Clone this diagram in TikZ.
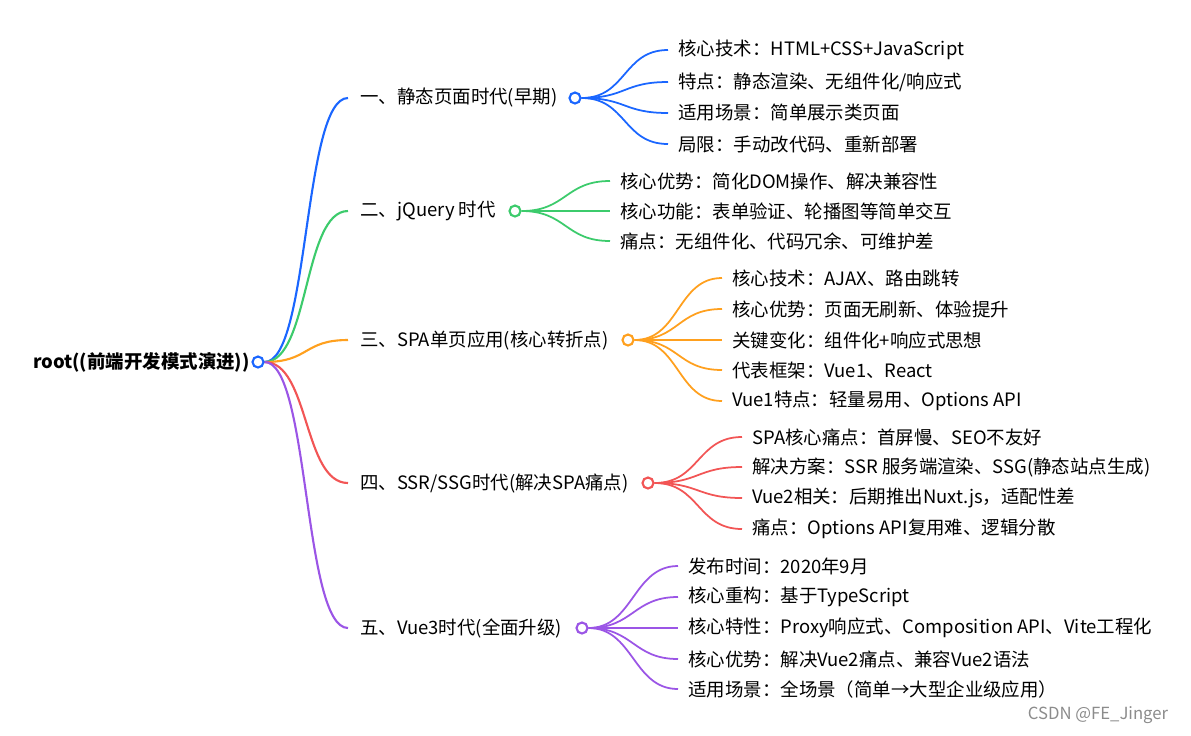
\documentclass[tikz,border=0pt]{standalone}
\usepackage{fontspec}
\setmainfont{Noto Sans CJK SC}
\usepackage{tikz}

\definecolor{cA}{HTML}{1A66FF}
\definecolor{cB}{HTML}{3CCB6C}
\definecolor{cC}{HTML}{FFA01E}
\definecolor{cD}{HTML}{F25555}
\definecolor{cE}{HTML}{9B55E6}

\tikzset{
  dot/.style={circle,inner sep=0pt,minimum size=0.22cm,line width=1.2pt},
  txt/.style={anchor=west,inner ysep=0pt,inner xsep=0.2cm,font=\fontsize{10.5pt}{12pt}\selectfont},
  br/.style={line width=1.2pt},
  lf/.style={line width=1pt}
}

\begin{document}
\begin{tikzpicture}[x=0.02cm,y=-0.02cm]
  \useasboundingbox[fill=white] (0,0) rectangle (1191,735);
  % root
  \node (r) at (250,362) [anchor=east,inner sep=0pt,font=\fontsize{10.5pt}{12pt}\selectfont\bfseries] {root((前端开发模式演进))};
  \node (rc) at (258,362) [dot] {};
  % branches
  \node (a) at (348,98)  [txt,inner xsep=0.24cm] {一、静态页面时代(早期)};
  \node (b) at (348,211) [txt,inner xsep=0.24cm] {二、jQuery 时代};
  \node (c) at (348,340) [txt,inner xsep=0.24cm] {三、SPA单页应用(核心转折点)};
  \node (d) at (348,483) [txt,inner xsep=0.24cm] {四、SSR/SSG时代(解决SPA痛点)};
  \node (e) at (348,628) [txt,inner xsep=0.24cm] {五、Vue3时代(全面升级)};
  \node (ac) at (575,98)  [dot] {};
  \node (bc) at (515,211) [dot] {};
  \node (cc) at (628,340) [dot] {};
  \node (dc) at (648,483) [dot] {};
  \node (ec) at (582,628) [dot] {};
  % leaves
  \node (a1) at (668,50)  [txt] {核心技术：HTML+CSS+JavaScript};
  \node (a2) at (668,82)  [txt] {特点：静态渲染、无组件化/响应式};
  \node (a3) at (668,113) [txt] {适用场景：简单展示类页面};
  \node (a4) at (668,144) [txt] {局限：手动改代码、重新部署};
  \node (b1) at (610,181) [txt] {核心优势：简化DOM操作、解决兼容性};
  \node (b2) at (610,211) [txt] {核心功能：表单验证、轮播图等简单交互};
  \node (b3) at (610,241) [txt] {痛点：无组件化、代码冗余、可维护差};
  \node (c1) at (722,278) [txt] {核心技术：AJAX、路由跳转};
  \node (c2) at (722,309) [txt] {核心优势：页面无刷新、体验提升};
  \node (c3) at (722,340) [txt] {关键变化：组件化+响应式思想};
  \node (c4) at (722,370) [txt] {代表框架：Vue1、React};
  \node (c5) at (722,401) [txt] {Vue1特点：轻量易用、Options API};
  \node (d1) at (742,437) [txt] {SPA核心痛点：首屏慢、SEO不友好};
  \node (d2) at (742,467) [txt] {解决方案：SSR 服务端渲染、SSG(静态站点生成)};
  \node (d3) at (742,498) [txt] {Vue2相关：后期推出Nuxt.js，适配性差};
  \node (d4) at (742,529) [txt] {痛点：Options API复用难、逻辑分散};
  \node (e1) at (678,566) [txt] {发布时间：2020年9月};
  \node (e2) at (678,597) [txt] {核心重构：基于TypeScript};
  \node (e3) at (678,628) [txt] {核心特性：Proxy响应式、Composition API、Vite工程化};
  \node (e4) at (678,659) [txt] {核心优势：解决Vue2痛点、兼容Vue2语法};
  \node (e5) at (678,689) [txt] {适用场景：全场景（简单→大型企业级应用）};
  \node (wm) at (1098,715) [font=\fontsize{9.5pt}{11pt}\selectfont,text=black!45] {CSDN @FE\_Jinger};
  % connectors
  \draw[br,cA] (rc.east) .. controls +(45,0) and +(-45,0) .. (a.west);
  \draw[br,cB] (rc.east) .. controls +(45,0) and +(-45,0) .. (b.west);
  \draw[br,cC] (rc.east) .. controls +(45,0) and +(-45,0) .. (c.west);
  \draw[br,cD] (rc.east) .. controls +(45,0) and +(-45,0) .. (d.west);
  \draw[br,cE] (rc.east) .. controls +(45,0) and +(-45,0) .. (e.west);
  \foreach \n in {a1,a2,a3,a4}
    \draw[lf,cA] (ac.east) .. controls +(45,0) and +(-45,0) .. (\n.west);
  \foreach \n in {b1,b2,b3}
    \draw[lf,cB] (bc.east) .. controls +(45,0) and +(-45,0) .. (\n.west);
  \foreach \n in {c1,c2,c3,c4,c5}
    \draw[lf,cC] (cc.east) .. controls +(45,0) and +(-45,0) .. (\n.west);
  \foreach \n in {d1,d2,d3,d4}
    \draw[lf,cD] (dc.east) .. controls +(45,0) and +(-45,0) .. (\n.west);
  \foreach \n in {e1,e2,e3,e4,e5}
    \draw[lf,cE] (ec.east) .. controls +(45,0) and +(-45,0) .. (\n.west);
  % circles on top
  \foreach \n/\c in {rc/cA,ac/cA,bc/cB,cc/cC,dc/cD,ec/cE}
    \node at (\n) [dot,draw=\c,fill=white] {};
\end{tikzpicture}
\end{document}
